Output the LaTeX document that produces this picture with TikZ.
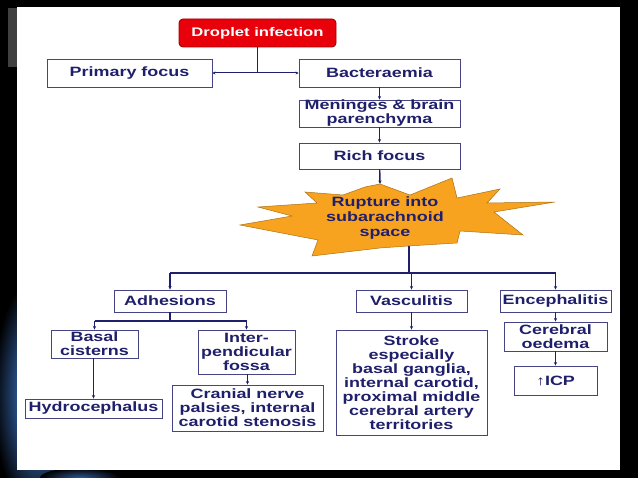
\documentclass[tikz,border=0pt]{standalone}
\usepackage{fontspec}
\setmainfont[FakeStretch=1.33]{Liberation Sans}
\usetikzlibrary{arrows.meta}
\definecolor{navy}{rgb}{0.12, 0.12, 0.42}
\definecolor{boxline}{rgb}{0.27, 0.27, 0.52}
\definecolor{dropred}{rgb}{0.91, 0.0, 0.04}
\definecolor{starorange}{rgb}{0.97, 0.64, 0.12}
\definecolor{xrayblue}{rgb}{0.30, 0.58, 0.98}

\begin{document}
\begin{tikzpicture}[x=1pt, y=-1pt,
        box/.style={draw=boxline, line width=0.9pt, fill=white, text=navy,
            font=\fontsize{13.5}{14}\selectfont\bfseries, align=center, inner sep=0pt},
        link/.style={draw=navy, line width=1.4pt},
        thinlink/.style={draw=navy, line width=1pt},
        arr/.style={link, -{Stealth[length=3.5pt, width=3.2pt]}},
        thinarr/.style={thinlink, -{Stealth[length=3pt, width=3pt]}}
    ]
        % Slide background
        \useasboundingbox (0,0) rectangle (638,478);
        \fill[black] (0,0) rectangle (638,478);
        \begin{scope}
            \clip (0,280) rectangle (140,478);
            \shade[inner color=xrayblue, outer color=black] (38,395) ellipse (45pt and 120pt);
            \shade[inner color=xrayblue!60!black, outer color=black] (80,478) ellipse (40pt and 10pt);
        \end{scope}
        \fill[black!75] (8,8) rectangle (17,67);
        \fill[white] (17,7) rectangle (620,470);

        % Burst shape
        \filldraw[fill=starorange, draw=starorange!70!black, line width=0.5pt]
            (380,184) -- (410,195) -- (452,178) -- (457,198) -- (500,189) -- (487,203)
            -- (555,202) -- (494,212) -- (523,235) -- (460,231) -- (457,243)
            -- (408,246) -- (380,248) -- (312,256) -- (318,240) -- (240,225)
            -- (292,216) -- (258,207) -- (317,203) -- (305,192) -- (343,195)
            -- (365,187) -- cycle;
        \coordinate (startop) at (380,184);
        \coordinate (starbot) at (409,246);

        % Add boxes
        \node (drop) at (257.5,33) [box, draw=dropred!70!black, fill=dropred, text=white,
            rounded corners=4pt, minimum width=157pt, minimum height=28pt,
            font=\fontsize{12.5}{14}\selectfont\bfseries] {Droplet infection};
        \node (prim) at (129.5,73) [box, minimum width=165pt, minimum height=28pt] {Primary focus};
        \node (bact) at (379.5,73) [box, minimum width=161pt, minimum height=28pt] {Bacteraemia};
        \node (men) at (379.5,113.5) [box, minimum width=161pt, minimum height=27pt] {Meninges \& brain\\parenchyma};
        \node (rich) at (379.5,156) [box, minimum width=161pt, minimum height=26pt] {Rich focus};
        \node (rup) at (385,218) [text=navy, align=center, inner sep=0pt,
            font=\fontsize{13.5}{15}\selectfont\bfseries] {Rupture into\\subarachnoid\\space};
        \node (adh) at (170,301) [box, minimum width=112pt, minimum height=22pt] {Adhesions};
        \node (vasc) at (411.5,301) [box, minimum width=111pt, minimum height=22pt] {Vasculitis};
        \node (enc) at (555.5,301) [box, minimum width=111pt, minimum height=22pt] {Encephalitis};
        \node (basal) at (94.5,344) [box, minimum width=87pt, minimum height=28pt] {Basal\\cisterns};
        \node (inter) at (246.5,352) [box, minimum width=97pt, minimum height=44pt] {Inter-\\pendicular\\fossa};
        \node (hydro) at (93.5,408.5) [box, minimum width=137pt, minimum height=19pt] {Hydrocephalus};
        \node (cran) at (247.5,408) [box, minimum width=151pt, minimum height=46pt] {Cranial nerve\\palsies, internal\\carotid stenosis};
        \node (stroke) at (411.5,382.5) [box, minimum width=151pt, minimum height=105pt] {Stroke\\especially\\basal ganglia,\\internal carotid,\\proximal middle\\cerebral artery\\territories};
        \node (oed) at (555.5,336.5) [box, minimum width=103pt, minimum height=29pt] {Cerebral\\oedema};
        \node (icp) at (555.5,380.5) [box, minimum width=83pt, minimum height=29pt] {↑ICP};

        % Draw lines between boxes
        \coordinate (split) at (257.5,73);
        \draw[link] (drop) -- (split);
        \draw[thinarr] (split) -- (prim);
        \draw[thinarr] (split) -- (bact);
        \draw[arr] (bact) -- (men);
        \draw[arr] (men) -- (rich);
        \draw[arr] (rich) -- (startop);

        \coordinate (bus) at (409,273);
        \coordinate (busl) at (170,273);
        \coordinate (busr) at (555.5,273);
        \draw[link] (starbot) -- (bus);
        \draw[link] (busl) -- (busr);
        \draw[arr] (busl) -- (adh);
        \draw[arr] (bus -| vasc) -- (vasc);
        \draw[arr] (busr) -- (enc);

        \coordinate (adhs) at (170,321);
        \coordinate (adhl) at (94.5,321);
        \coordinate (adhr) at (246.5,321);
        \draw[link] (adh) -- (adhs);
        \draw[link] (adhl) -- (adhr);
        \draw[arr] (adhl) -- (basal);
        \draw[arr] (adhr) -- (inter);
        \draw[arr] (basal.south -| hydro) -- (hydro);
        \draw[arr] (inter.south -| cran) -- (cran);
        \draw[arr] (vasc) -- (stroke);
        \draw[arr] (enc) -- (oed);
        \draw[arr] (oed) -- (icp);
    \end{tikzpicture}
\end{document}
